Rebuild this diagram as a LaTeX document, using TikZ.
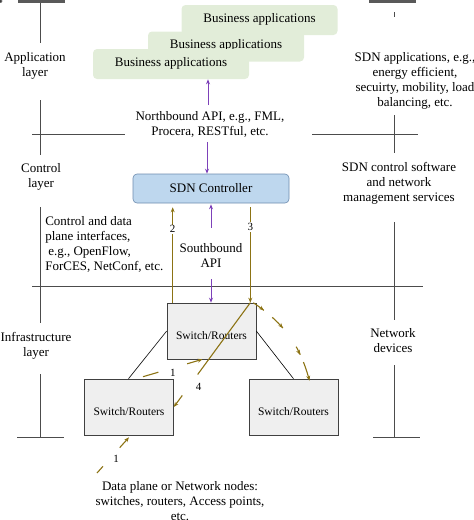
\documentclass[tikz,border=0pt]{standalone}
\usepackage{fontspec}
\setmainfont{Liberation Serif}
\usetikzlibrary{arrows.meta,decorations.markings}
\definecolor{bizgreen}{RGB}{226,237,217}
\definecolor{ctrlblue}{RGB}{190,215,238}
\definecolor{ctrledge}{RGB}{110,140,175}
\definecolor{swgray}{RGB}{239,239,239}
\definecolor{apipurple}{RGB}{125,65,185}
\definecolor{flowolive}{RGB}{140,115,20}
\begin{document}
\begin{tikzpicture}[x=1pt, y=-1pt, line width=0.6pt,
  every node/.style={font=\fontsize{13}{15}\selectfont},
  bizbox/.style={fill=bizgreen, rounded corners=4pt, minimum width=156pt, minimum height=30pt, text depth=5pt},
  ctrlbox/.style={draw=ctrledge, fill=ctrlblue, rounded corners=4pt, minimum width=156pt, minimum height=29pt},
  swbox/.style={draw=black!75, fill=swgray, minimum width=89pt, minimum height=56pt, text height=18pt, text depth=1pt, font=\fontsize{11.5}{13}\selectfont},
  txt/.style={align=center, inner sep=1pt},
  api/.style={color=apipurple, line width=1pt, -{Stealth[length=5pt,width=4pt]}},
  flow/.style={color=flowolive, line width=1.1pt, -{Stealth[length=5pt,width=4pt]}},
  num/.style={font=\fontsize{11}{13}\selectfont, inner sep=1pt, text=black},
  bar/.style={draw=black!70, line width=0.8pt}]
  \useasboundingbox (0,0) rectangle (474,520);

  % layer brackets
  \fill[black!65] (18,0) rectangle (65,3);
  \fill[black!65] (369,0) rectangle (416,3);
  \draw[bar] (40,3) -- (40,43);
  \draw[bar] (40,100) -- (40,155);
  \draw[bar] (32,134) -- (125,134);
  \draw[bar] (312,134) -- (418,134);
  \draw[bar] (40,207) -- (40,323);
  \draw[bar] (32,286) -- (423,286);
  \draw[bar] (40,374) -- (40,437);
  \draw[bar] (17,437) -- (64,437);
  \draw[bar] (394,12) -- (394,17);
  \draw[bar] (394,115) -- (394,153);
  \draw[bar] (394,222) -- (394,320);
  \draw[bar] (394,365) -- (394,437);
  \draw[bar] (373,437) -- (420,437);

  \node[txt] (applbl) at (35,65.5) {Application\\layer};
  \node[txt] (ctrllbl) at (41,176.5) {Control\\layer};
  \node[txt] (infralbl) at (36,346) {Infrastructure\\layer};
  \node[txt, align=left, anchor=west] (ifaces) at (44,244.5) {Control and data\\plane interfaces,\\\hspace{3pt}e.g., OpenFlow,\\ForCES, NetConf, etc.};
  \node[txt] (applsdn) at (415,80.5) {SDN applications, e.g.,\\energy efficient,\\secuirty, mobility, load\\balancing, etc.};
  \node[txt] (ctrlsdn) at (399,183) {SDN control software\\and network\\management services};
  \node[txt] (netdev) at (393,340.5) {Network\\devices};

  % applications and controller
  \node[bizbox] (biz3) at (259.5,20) {Business applications};
  \node[bizbox] (biz2) at (226,46.5) {Business applications};
  \node[bizbox] (biz1) at (171,64) {Business applications};
  \node[txt] (north) at (210,124.5) {Northbound API, e.g., FML,\\Procera, RESTful, etc.};
  \node[ctrlbox] (ctrl) at (211,188.5) {SDN Controller};
  \node[txt] (south) at (211,255) {Southbound\\API};

  % switches
  \node[swbox] (sw1) at (211.5,331) {Switch/Routers};
  \node[swbox] (sw2) at (129,407) {Switch/Routers};
  \node[swbox] (sw3) at (293.5,407) {Switch/Routers};
  \node[txt] (dpnodes) at (180,501) {Data plane or Network nodes:\\switches, routers, Access points,\\etc.};
  \coordinate (dpsrc) at (97,473);

  \draw (sw1.west) -- ([xshift=-0.5pt]sw2.north);
  \draw (sw1.east) -- (sw3.north);

  % API arrows
  \draw[api] ([xshift=-2pt,yshift=5pt]north.north) -- ([xshift=-2pt]north.north |- biz1.south);
  \draw[api, shorten <=3pt] ([xshift=-3pt]north.south) -- ([xshift=-3pt]north.south |- ctrl.north);
  \draw[api, shorten <=14pt, shorten >=1pt] (south.north) -- (south.north |- ctrl.south);
  \draw[api, shorten <=11pt] (south.south) -- (south.south |- sw1.north);

  % message flows
  \draw[flow, shorten >=4pt] ([xshift=6pt]sw1.north west) -- ([xshift=6pt]sw1.north west |- ctrl.south)
    node[num, pos=0.74, fill=white] (n2) {2};
  \draw[flow, shorten <=4pt] ([xshift=-6pt]sw1.north east |- ctrl.south) -- ([xshift=-6pt]sw1.north east)
    node[num, pos=0.24, fill=white] (n3) {3};
  \draw[flow, dash pattern=on 89pt off 26pt on 40pt] ([xshift=-6pt]sw1.north east) -- (sw2.east)
    node[num, pos=0.81, right=6pt] (n4a) {4};
  \draw[flow, dash pattern=on 16pt off 30pt on 30pt] ([xshift=14pt,yshift=2pt]sw2.north) -- ([xshift=-9pt]sw1.south)
    node[num, pos=0.5, below=0pt] (n1a) {1};
  \draw[flow, dash pattern=on 9pt off 25pt on 30pt] (dpsrc) -- ([yshift=-2pt]sw2.south)
    node[num, pos=0.4, right=2pt] (n1b) {1};
  \draw[flow, dash pattern=on 13pt off 11pt on 15pt off 23pt on 9pt off 8pt on 20pt,
    decoration={markings,
      mark=at position 13pt with {\arrow{Stealth[length=5pt,width=4pt]}},
      mark=at position 39pt with {\arrow{Stealth[length=5pt,width=4pt]}},
      mark=at position 71pt with {\arrow{Stealth[length=5pt,width=4pt]}}},
    postaction={decorate}]
    ([xshift=-3pt]sw1.north east) to[bend left=20] ([xshift=16pt,yshift=-2pt]sw3.north)
    node[num, pos=0.55] (n4b) {4};
\end{tikzpicture}
\end{document}
